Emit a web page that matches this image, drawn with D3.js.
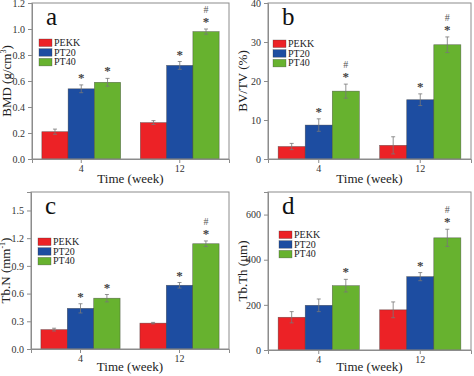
<!DOCTYPE html>
<html>
<head>
<meta charset="utf-8">
<script src="https://cdn.jsdelivr.net/npm/d3@7"></script>
<style>
  body { margin: 0; background: #fff; }
  svg { display: block; font-family: "Liberation Serif", "Times New Roman", serif; }
  svg text { font-family: "Liberation Serif", "Times New Roman", serif; }
</style>
</head>
<body>
<svg id="chart" width="474" height="376"></svg>
<script>
// data
var weeks = ["4", "12"];
var groups = ["PEKK", "PT20", "PT40"];
var colors = ["#ec2226", "#1d4da1", "#67b22f"];

var bmdMean = [[0.21, 0.54, 0.59], [0.28, 0.72, 0.98]];
var bmdErr  = [[0.02, 0.03, 0.03], [0.015, 0.03, 0.02]];
var bmdSig  = [["", "*", "*"], ["", "*", "#*"]];
var bmdTicks = [0, 0.2, 0.4, 0.6, 0.8, 1.0, 1.2];

var bvMean = [[3.2, 8.7, 17.4], [3.5, 15.2, 29.3]];
var bvErr  = [[0.8, 1.6, 1.8], [2.2, 1.5, 2.0]];
var bvSig  = [["", "*", "#*"], ["", "*", "#*"]];
var bvTicks = [0, 10, 20, 30, 40];

var tbnMean = [[0.21, 0.44, 0.55], [0.28, 0.69, 1.14]];
var tbnErr  = [[0.015, 0.05, 0.04], [0.008, 0.03, 0.03]];
var tbnSig  = [["", "*", "*"], ["", "*", "#*"]];
var tbnTicks = [0, 0.3, 0.6, 0.9, 1.2, 1.5];

var tbthMean = [[145, 198, 285], [178, 325, 497]];
var tbthErr  = [[25, 28, 28], [35, 18, 38]];
var tbthSig  = [["", "", "*"], ["", "*", "#*"]];
var tbthTicks = [0, 200, 400, 600];

var panels = [
  {letter: "a", mean: bmdMean, err: bmdErr, sig: bmdSig, ticks: bmdTicks, max: 1.2, fmt: ".1f",
   title: ["BMD (g/cm", "3", ")"], box: [32, 3, 229, 159], leg: [39, 39], titleY: 183},
  {letter: "b", mean: bvMean, err: bvErr, sig: bvSig, ticks: bvTicks, max: 40, fmt: "d",
   title: ["BV/TV (%)", "", ""], box: [268, 3, 471, 159], leg: [273, 40], titleY: 183},
  {letter: "c", mean: tbnMean, err: tbnErr, sig: tbnSig, ticks: tbnTicks, max: 1.7, fmt: ".1f",
   title: ["Tb.N (mm", "-1", ")"], box: [31, 192, 229, 349], leg: [38, 238], titleY: 371},
  {letter: "d", mean: tbthMean, err: tbthErr, sig: tbthSig, ticks: tbthTicks, max: 700, fmt: "d",
   title: ["Tb.Th (\u03bcm)", "", ""], box: [268, 192, 471, 350], leg: [279, 231], titleY: 371}
];

var svg = d3.select("#chart");

panels.forEach(function(p) {
  var x0 = p.box[0], y0 = p.box[1], x1 = p.box[2], y1 = p.box[3];
  var g = svg.append("g");

  var x = d3.scaleBand().domain(weeks).range([x0, x1]).paddingInner(0.2).paddingOuter(0.1);
  var xs = d3.scaleBand().domain(groups).range([0, x.bandwidth()]);
  var y = d3.scaleLinear().domain([0, p.max]).range([y1, y0]);

  // bars
  weeks.forEach(function(w, wi) {
    var gg = g.append("g").attr("transform", "translate(" + x(w) + ",0)");
    var rows = groups.map(function(s, si) {
      return {s: s, c: colors[si], v: p.mean[wi][si], e: p.err[wi][si], sig: p.sig[wi][si]};
    });
    gg.selectAll("rect").data(rows).enter().append("rect")
      .attr("x", function(d) { return xs(d.s); })
      .attr("y", function(d) { return y(d.v); })
      .attr("width", xs.bandwidth())
      .attr("height", function(d) { return y1 - y(d.v); })
      .attr("fill", function(d) { return d.c; })
      .attr("stroke", "#333").attr("stroke-width", 0.6).attr("stroke-opacity", 0.6);

    var eb = gg.selectAll("g.eb").data(rows).enter().append("g")
      .attr("transform", function(d) { return "translate(" + (xs(d.s) + xs.bandwidth() / 2) + ",0)"; });
    eb.append("line").attr("x1", 0).attr("x2", 0)
      .attr("y1", function(d) { return y(d.v - d.e); })
      .attr("y2", function(d) { return y(d.v + d.e); })
      .attr("stroke", "#777").attr("stroke-width", 0.8);
    eb.append("line").attr("x1", -2).attr("x2", 2)
      .attr("y1", function(d) { return y(d.v + d.e); })
      .attr("y2", function(d) { return y(d.v + d.e); })
      .attr("stroke", "#777").attr("stroke-width", 0.8);
    eb.append("line").attr("x1", -2).attr("x2", 2)
      .attr("y1", function(d) { return y(d.v - d.e); })
      .attr("y2", function(d) { return y(d.v - d.e); })
      .attr("stroke", "#777").attr("stroke-width", 0.8);

    // significance marks
    eb.filter(function(d) { return d.sig.indexOf("*") >= 0; }).append("text")
      .attr("text-anchor", "middle").attr("font-size", 13).attr("font-weight", "bold").attr("fill", "#444")
      .attr("y", function(d) { return y(d.v + d.e) - 3; })
      .text("*");
    eb.filter(function(d) { return d.sig.indexOf("#") >= 0; }).append("text")
      .attr("text-anchor", "middle").attr("font-size", 10).attr("fill", "#555")
      .attr("y", function(d) { return y(d.v + d.e) - 16; })
      .text("#");
  });

  // frame
  g.append("rect").attr("x", x0).attr("y", y0).attr("width", x1 - x0).attr("height", y1 - y0)
    .attr("fill", "none").attr("stroke", "#8c8c8c").attr("stroke-width", 1);

  // axes
  var ya = g.append("g").attr("transform", "translate(" + x0 + ",0)")
    .call(d3.axisLeft(y).tickValues(p.ticks).tickFormat(d3.format(p.fmt)).tickSizeOuter(0).tickSize(4).tickPadding(3));
  var xa = g.append("g").attr("transform", "translate(0," + y1 + ")")
    .call(d3.axisBottom(x).tickSizeOuter(0).tickSize(4).tickPadding(2));
  [ya, xa].forEach(function(a) {
    a.attr("font-family", null);
    a.select(".domain").attr("stroke", "#8c8c8c");
    a.selectAll(".tick line").attr("stroke", "#8c8c8c");
    a.selectAll(".tick text").attr("font-size", 10).attr("fill", "#333");
  });

  // axis titles
  g.append("text").attr("x", (x0 + x1) / 2).attr("y", p.titleY)
    .attr("text-anchor", "middle").attr("font-size", 13).attr("fill", "#222")
    .text("Time (week)");
  var yt = g.append("text")
    .attr("transform", "translate(" + (x0 - 21) + "," + ((y0 + y1) / 2) + ") rotate(-90)")
    .attr("text-anchor", "middle").attr("font-size", 13).attr("fill", "#222");
  yt.append("tspan").text(p.title[0]);
  if (p.title[1]) {
    yt.append("tspan").attr("font-size", 8).attr("dy", -5).text(p.title[1]);
    yt.append("tspan").attr("dy", 5).text(p.title[2]);
  }

  // panel letter
  g.append("text").attr("x", x0 + 14).attr("y", y0 + 22)
    .attr("font-size", 25).attr("fill", "#111").text(p.letter);

  // legend
  var lg = g.append("g").attr("transform", "translate(" + p.leg[0] + "," + p.leg[1] + ")");
  var li = lg.selectAll("g").data(groups).enter().append("g")
    .attr("transform", function(d, i) { return "translate(0," + (i * 9.7) + ")"; });
  li.append("rect").attr("width", 13).attr("height", 7.5)
    .attr("fill", function(d, i) { return colors[i]; })
    .attr("stroke", "#333").attr("stroke-width", 0.5).attr("stroke-opacity", 0.6);
  li.append("text").attr("x", 15).attr("y", 7).attr("font-size", 10).attr("fill", "#222")
    .text(function(d) { return d; });
});
</script>
</body>
</html>
